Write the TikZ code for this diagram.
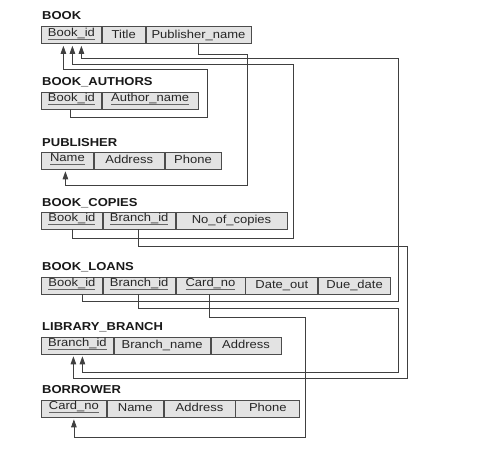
\documentclass[tikz,border=0pt]{standalone}
\usepackage{fontspec}
\setmainfont{Liberation Sans}[FakeStretch=1.13]
\usetikzlibrary{arrows.meta,calc}
\newcommand\pkey[1]{\raisebox{1.8pt}{\setbox0\hbox{#1}\rlap{\color{black!60}\rule[-3pt]{\wd0}{0.6pt}}\box0}}
\begin{document}
\begin{tikzpicture}[x=1pt,y=-1pt,
  cell/.style={draw=black!70,line width=0.8pt,fill=black!11,inner sep=0pt,
    minimum height=16.5pt,anchor=north west,text height=8.3pt,text depth=2.5pt,
    font=\fontsize{11.5}{13}\selectfont,text=black!85},
  ttl/.style={anchor=base west,inner sep=0pt,font=\fontsize{11.5}{13}\selectfont\bfseries,text=black!90},
  fk/.style={draw=black!75,line width=0.8pt,-{Triangle[length=8pt,width=5.5pt]},shorten >=2pt}]
\useasboundingbox[fill=white] (0,0) rectangle (486,468);
% BOOK
\node[ttl] (tbook) at (42,20) {BOOK};
\node[cell,minimum width=60pt] (b1) at (41,26.5) {\pkey{Book\_id}};
\node[cell,minimum width=43pt] (b2) at (b1.north east) {Title};
\node[cell,minimum width=105pt] (b3) at (b2.north east) {Publisher\_name};
% BOOK_AUTHORS
\node[ttl] (tba) at (42,85.5) {BOOK\_AUTHORS};
\node[cell,minimum width=60pt] (ba1) at (41,92) {\pkey{Book\_id}};
\node[cell,minimum width=96pt] (ba2) at (ba1.north east) {\pkey{Author\_name}};
% PUBLISHER
\node[ttl] (tpub) at (42,146) {PUBLISHER};
\node[cell,minimum width=52pt] (p1) at (41,152) {\pkey{Name}};
\node[cell,minimum width=70pt] (p2) at (p1.north east) {Address};
\node[cell,minimum width=56pt] (p3) at (p2.north east) {Phone};
% BOOK_COPIES
\node[ttl] (tbc) at (42,206) {BOOK\_COPIES};
\node[cell,minimum width=61pt] (bc1) at (41,212) {\pkey{Book\_id}};
\node[cell,minimum width=72pt] (bc2) at (bc1.north east) {\pkey{Branch\_id}};
\node[cell,minimum width=111pt] (bc3) at (bc2.north east) {No\_of\_copies};
% BOOK_LOANS
\node[ttl] (tbl) at (42,270.5) {BOOK\_LOANS};
\node[cell,minimum width=61pt] (bl1) at (41,277) {\pkey{Book\_id}};
\node[cell,minimum width=72pt] (bl2) at (bl1.north east) {\pkey{Branch\_id}};
\node[cell,minimum width=69pt] (bl3) at (bl2.north east) {\pkey{Card\_no}};
\node[cell,minimum width=72pt] (bl4) at (bl3.north east) {Date\_out};
\node[cell,minimum width=72pt] (bl5) at (bl4.north east) {Due\_date};
% LIBRARY_BRANCH
\node[ttl] (tlb) at (42,330.5) {LIBRARY\_BRANCH};
\node[cell,minimum width=72pt] (lb1) at (41,337) {\pkey{Branch\_id}};
\node[cell,minimum width=96pt] (lb2) at (lb1.north east) {Branch\_name};
\node[cell,minimum width=70pt] (lb3) at (lb2.north east) {Address};
% BORROWER
\node[ttl] (tbo) at (42,393.5) {BORROWER};
\node[cell,minimum width=65pt] (bo1) at (41,400) {\pkey{Card\_no}};
\node[cell,minimum width=56pt] (bo2) at (bo1.north east) {Name};
\node[cell,minimum width=71pt] (bo3) at (bo2.north east) {Address};
\node[cell,minimum width=64pt] (bo4) at (bo3.north east) {Phone};
% connectors
\draw[fk] ($(ba1.south)+(-1,0)$) |- (207,117) |- ($(b1.south)+(-8,26)$) -- ($(b1.south)+(-8,0)$);
\draw[fk] (bc1.south) |- (293,238) |- ($(b1.south)+(1,21)$) -- ($(b1.south)+(1,0)$);
\draw[fk] ($(bl1.south)+(10,0)$) |- (398,301) |- ($(b1.south)+(10,15)$) -- ($(b1.south)+(10,0)$);
\draw[fk] (b3.south) |- (247,54) |- ($(p1.south)+(-2,16)$) -- ($(p1.south)+(-2,0)$);
\draw[fk] ($(bc2.south)+(-1,0)$) |- (407,246) |- ($(lb1.south)+(-4,24)$) -- ($(lb1.south)+(-4,0)$);
\draw[fk] ($(bl2.south)+(-1,0)$) |- (398,308) |- ($(lb1.south)+(5,18)$) -- ($(lb1.south)+(5,0)$);
\draw[fk] ($(bl3.south)+(-1,0)$) |- (305,317) |- ($(bo1.south)+(0,20)$) -- (bo1.south);
\end{tikzpicture}
\end{document}
